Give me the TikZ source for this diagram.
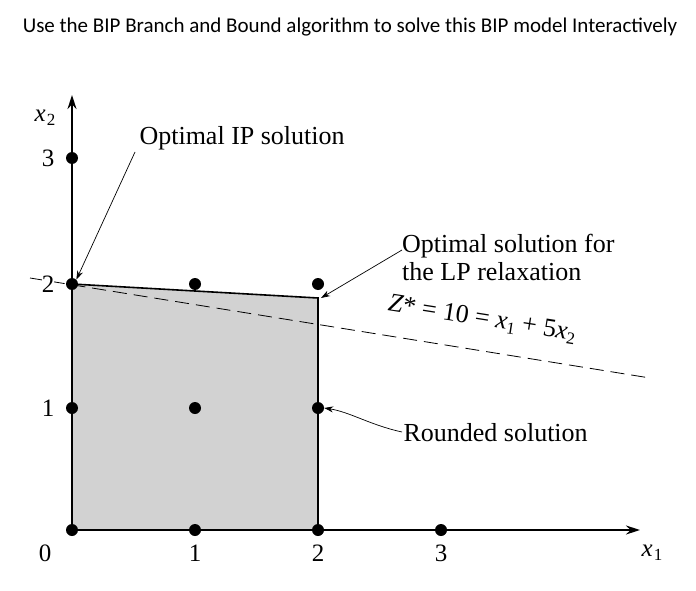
\documentclass[tikz,border=0pt]{standalone}
\usepackage{fontspec}
\setmainfont{Liberation Serif}
\newfontfamily\titlefont{Carlito}
\usetikzlibrary{arrows.meta}
\begin{document}
\begin{tikzpicture}[x=1pt,y=-1pt,
  dot/.style={circle,fill=black,inner sep=0pt,minimum size=12pt},
  lbl/.style={font=\fontsize{26}{28}\selectfont},
  tick/.style={font=\fontsize{25}{27}\selectfont},
  ptr/.style={-{Stealth[length=9pt,width=6pt]},line width=0.7pt}]
\useasboundingbox (0,0) rectangle (696,591);
\node[font=\titlefont\fontsize{21}{23}\selectfont] (title) at (350,27) {Use the BIP Branch and Bound algorithm to solve this BIP model Interactively};
% region
\fill[gray!35] (72,530) -- (72,284) -- (318,298) -- (318,530) -- cycle;
\draw[line width=1.6pt] (72,284) -- (318,298) -- (318,530);
% dashed objective line
\draw[line width=0.8pt,dash pattern=on 14pt off 7pt] (30,278) -- (650,378);
% axes
\coordinate (O) at (72,530);
\coordinate (xe) at (640,530);
\coordinate (ye) at (72,95);
\draw[line width=1.6pt,-{Stealth[length=14pt,width=9pt]}] (O) -- (xe);
\draw[line width=1.6pt,-{Stealth[length=14pt,width=9pt]}] (O) -- (ye);
\node[tick] (x1) at (652,553) {\textit{x}\kern1pt\raisebox{-4pt}{\fontsize{17}{18}\selectfont 1}};
\node[tick] (x2) at (45,118) {\textit{x}\kern1pt\raisebox{-4pt}{\fontsize{17}{18}\selectfont 2}};
\node[tick] (t0) at (45,553) {0};
\node[tick] (t1) at (195,553) {1};
\node[tick] (t2) at (318,553) {2};
\node[tick] (t3) at (441,553) {3};
\node[tick,fill=white,inner sep=0pt] (s2) at (48,284) {2};
\node[tick] (s1) at (48,408) {1};
\node[tick] (s3) at (48,158) {3};
% dots
\foreach \n/\p in {a/{72,158},b/{72,284},c/{195,284},d/{318,284},e/{72,408},f/{195,408},g/{318,408},h/{72,530},i/{195,530},j/{318,530},k/{441,530}}
  \node[dot] (d\n) at (\p) {};
\coordinate (lp) at (318,298);
% annotations
\node[lbl,anchor=west] (ip) at (136,138) {Optimal IP solution};
\draw[ptr] (135,152) -- (db.north east);
\node[lbl,anchor=west,align=left,inner sep=1pt] (lpt) at (401,257) {Optimal solution for\\the LP relaxation};
\draw[ptr] (402,250) -- ([xshift=3pt]lp);
\node[lbl,anchor=west] (rs) at (400,433) {Rounded solution};
\draw[ptr] (402,432) .. controls (370,425) and (350,412) .. (dg.east);
\node[lbl,rotate=-9,inner sep=1pt] (z) at (482,319) {\textit{Z}* = 10 = \textit{x}\raisebox{-4pt}{\fontsize{17}{18}\selectfont 1} + 5\textit{x}\raisebox{-4pt}{\fontsize{17}{18}\selectfont 2}};
\end{tikzpicture}
\end{document}
